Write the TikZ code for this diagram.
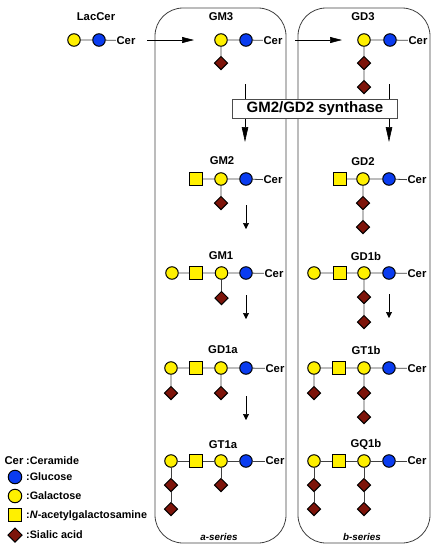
\documentclass[tikz,border=0pt]{standalone}
\usepackage{fontspec}
\setmainfont{Liberation Sans}
\usetikzlibrary{arrows.meta,shapes.geometric}
\definecolor{glcblue}{RGB}{10,60,240}
\definecolor{galyellow}{RGB}{255,240,0}
\definecolor{sialred}{RGB}{125,20,10}
\tikzset{
 x=1pt,y=-1pt,
 glc/.style={circle,draw=black,line width=1pt,fill=glcblue,minimum size=12.5pt,inner sep=0pt},
 gal/.style={circle,draw=black,line width=1pt,fill=galyellow,minimum size=12.5pt,inner sep=0pt},
 nag/.style={rectangle,draw=black,line width=1pt,fill=galyellow,minimum size=12.5pt,inner sep=0pt},
 sia/.style={diamond,draw=black,line width=1pt,fill=sialred,minimum size=13.5pt,inner sep=0pt},
 cer/.style={font=\bfseries\fontsize{11.3}{13}\selectfont,inner sep=0.5pt},
 ttl/.style={font=\bfseries\fontsize{11.3}{13}\selectfont,inner sep=0pt},
 leg/.style={font=\bfseries\fontsize{10.8}{13}\selectfont,inner sep=0pt,anchor=west},
 bond/.style={draw=black!75,line width=0.8pt},
 series/.style={draw=black!75,line width=0.8pt,rounded corners=28pt},
 bigarrow/.style={draw=black,line width=0.6pt,-{Triangle[length=12pt,width=6pt]}},
 vbigarrow/.style={draw=black,line width=0.6pt,-{Triangle[length=15pt,width=6.5pt]}},
 smallarrow/.style={draw=black,line width=0.6pt,-{Triangle[length=6pt,width=6pt]}},
}
\begin{document}
\begin{tikzpicture}
\useasboundingbox (0,0) rectangle (437,550);
% series boxes
\draw[series] (155,8) rectangle (286,543);
\draw[series] (298,8) rectangle (430,543);
% titles
\node[ttl] at (96,17) {LacCer};
\node[ttl] at (221,17) {GM3};
\node[ttl] at (363,17) {GD3};
\node[ttl] at (222,161) {GM2};
\node[ttl] at (363,162) {GD2};
\node[ttl] at (221,256) {GM1};
\node[ttl] at (366,256) {GD1b};
\node[ttl] at (223,350) {GD1a};
\node[ttl] at (366,350) {GT1b};
\node[ttl] at (223,445) {GT1a};
\node[ttl] at (366,445) {GQ1b};
\node[font=\bfseries\itshape\fontsize{9.8}{11}\selectfont,inner sep=0pt] at (219,537) {a-series};
\node[font=\bfseries\itshape\fontsize{9.8}{11}\selectfont,inner sep=0pt] at (362,537) {b-series};
% LacCer
\node[gal] (l1) at (74,40) {}; \node[glc] (l2) at (99,40) {}; \node[cer] (lc) at (126,40.5) {Cer};
\draw[bond] (l1)--(l2) (l2)--(lc);
% GM3
\node[gal] (a1) at (221,40) {}; \node[glc] (a2) at (246,40) {}; \node[cer] (ac) at (273,40.5) {Cer}; \node[sia] (as) at (221,63) {};
\draw[bond] (a1)--(a2) (a2)--(ac) (a1)--(as);
% GD3
\node[gal] (b1) at (364,40) {}; \node[glc] (b2) at (390,40) {}; \node[cer] (bc) at (418,40.5) {Cer}; \node[sia] (bs) at (364,63) {}; \node[sia] (bt) at (364,87) {};
\draw[bond] (b1)--(b2) (b2)--(bc) (b1)--(bs) (bs)--(bt);
% GM2
\node[nag] (c0) at (196,179) {}; \node[gal] (c1) at (221,179) {}; \node[glc] (c2) at (246,179) {}; \node[cer] (cc) at (273,180) {Cer}; \node[sia] (cs) at (221,203) {};
\draw[bond] (c0)--(c1) (c1)--(c2) (c2)--(cc) (c1)--(cs);
% GD2
\node[nag] (d0) at (340,179) {}; \node[gal] (d1) at (363,179) {}; \node[glc] (d2) at (389,179) {}; \node[cer] (dc) at (417,180) {Cer}; \node[sia] (ds) at (363,203) {}; \node[sia] (dt) at (363,227) {};
\draw[bond] (d0)--(d1) (d1)--(d2) (d2)--(dc) (d1)--(ds) (ds)--(dt);
% GM1
\node[gal] (e9) at (172,273) {}; \node[nag] (e0) at (196,273) {}; \node[gal] (e1) at (221.5,273) {}; \node[glc] (e2) at (246,273) {}; \node[cer] (ec) at (274,273.5) {Cer}; \node[sia] (es) at (221.5,298) {};
\draw[bond] (e9)--(e0) (e0)--(e1) (e1)--(e2) (e2)--(ec) (e1)--(es);
% GD1b
\node[gal] (f9) at (314,273) {}; \node[nag] (f0) at (340,273) {}; \node[gal] (f1) at (364,273) {}; \node[glc] (f2) at (389,273) {}; \node[cer] (fc) at (417,273.5) {Cer}; \node[sia] (fs) at (364,297) {}; \node[sia] (ft) at (364,322) {};
\draw[bond] (f9)--(f0) (f0)--(f1) (f1)--(f2) (f2)--(fc) (f1)--(fs) (fs)--(ft);
% GD1a
\node[gal] (g9) at (171,368) {}; \node[nag] (g0) at (196,368) {}; \node[gal] (g1) at (221,368) {}; \node[glc] (g2) at (246,368) {}; \node[cer] (gc) at (275,368.5) {Cer}; \node[sia] (gs) at (221,393) {}; \node[sia] (gr) at (171,393) {};
\draw[bond] (g9)--(g0) (g0)--(g1) (g1)--(g2) (g2)--(gc) (g1)--(gs) (g9)--(gr);
% GT1b
\node[gal] (h9) at (314,368) {}; \node[nag] (h0) at (339,368) {}; \node[gal] (h1) at (364,368) {}; \node[glc] (h2) at (389,368) {}; \node[cer] (hc) at (417,368.5) {Cer}; \node[sia] (hs) at (364,393) {}; \node[sia] (ht) at (364,417) {}; \node[sia] (hr) at (314,393) {};
\draw[bond] (h9)--(h0) (h0)--(h1) (h1)--(h2) (h2)--(hc) (h1)--(hs) (hs)--(ht) (h9)--(hr);
% GT1a
\node[gal] (i9) at (171,461) {}; \node[nag] (i0) at (196,461) {}; \node[gal] (i1) at (221,461) {}; \node[glc] (i2) at (246,461) {}; \node[cer] (ic) at (275,461) {Cer}; \node[sia] (is) at (221,485) {}; \node[sia] (ir) at (171,485) {}; \node[sia] (iq) at (171,509) {};
\draw[bond] (i9)--(i0) (i0)--(i1) (i1)--(i2) (i2)--(ic) (i1)--(is) (i9)--(ir) (ir)--(iq);
% GQ1b
\node[gal] (j9) at (314,461) {}; \node[nag] (j0) at (339,461) {}; \node[gal] (j1) at (364,461) {}; \node[glc] (j2) at (389,461) {}; \node[cer] (jc) at (417,461) {Cer}; \node[sia] (js) at (364,485) {}; \node[sia] (jt) at (364,509) {}; \node[sia] (jr) at (314,485) {}; \node[sia] (jq) at (314,509) {};
\draw[bond] (j9)--(j0) (j0)--(j1) (j1)--(j2) (j2)--(jc) (j1)--(js) (js)--(jt) (j9)--(jr) (jr)--(jq);
% arrows
\coordinate (p1) at (147,40); \coordinate (p2) at (194,40);
\coordinate (p3) at (295,40); \coordinate (p4) at (342,40);
\draw[bigarrow] (p1)--(p2);
\draw[bigarrow] (p3)--(p4);
\coordinate (q1) at (245,84); \coordinate (q2) at (245,142);
\coordinate (q3) at (389,84); \coordinate (q4) at (389,142);
\draw[vbigarrow] (q1)--(q2);
\draw[vbigarrow] (q3)--(q4);
\node[draw=black!70,line width=0.6pt,fill=white,minimum width=165pt,minimum height=18.5pt,inner sep=0pt,font=\bfseries\fontsize{15}{17}\selectfont] (syn) at (315,109) {GM2/GD2 synthase};
\coordinate (r1) at (246,205); \coordinate (r2) at (246,229);
\coordinate (r3) at (246,295); \coordinate (r4) at (246,319);
\coordinate (r5) at (389,294); \coordinate (r6) at (389,318);
\coordinate (r7) at (246,396); \coordinate (r8) at (246,420);
\draw[smallarrow] (r1)--(r2);
\draw[smallarrow] (r3)--(r4);
\draw[smallarrow] (r5)--(r6);
\draw[smallarrow] (r7)--(r8);
% legend
\node[cer] (k0) at (14,461) {Cer};
\node[leg] (k0t) at (26,461) {:Ceramide};
\node[glc,minimum size=13.5pt] (k1) at (15,477) {}; \node[leg] (k1t) at (26,477) {:Glucose};
\node[gal,minimum size=13.5pt] (k2) at (15,496) {}; \node[leg] (k2t) at (26,496) {:Galactose};
\node[nag,minimum size=13pt] (k3) at (15,515) {}; \node[leg] (k3t) at (26,515.5) {:\textit{N}-acetylgalactosamine};
\node[sia,minimum size=14.5pt] (k4) at (15,535) {}; \node[leg] (k4t) at (26,534.5) {:Sialic acid};
\end{tikzpicture}
\end{document}
